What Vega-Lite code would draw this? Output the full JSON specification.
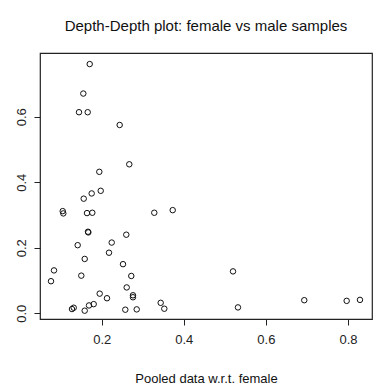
{
  "$schema": "https://vega.github.io/schema/vega-lite/v6.json",
  "width": 332,
  "height": 266,
  "autosize": "none",
  "padding": {"left": 40, "top": 53, "right": 13, "bottom": 66},
  "background": "white",
  "title": {
    "text": "Depth-Depth plot: female vs male samples",
    "font": "Liberation Sans",
    "fontSize": 15,
    "fontWeight": "normal",
    "color": "#111111",
    "anchor": "middle",
    "baseline": "alphabetic",
    "offset": 7
  },
  "config": {
    "view": {"stroke": "#222222", "strokeWidth": 1.2},
    "axis": {
      "grid": false,
      "domain": false,
      "tickColor": "#222222",
      "tickSize": 6,
      "labelFont": "Liberation Sans",
      "labelFontSize": 13,
      "labelColor": "#222222",
      "titleFont": "Liberation Sans",
      "titleFontSize": 13,
      "titleFontWeight": "normal",
      "titleColor": "#111111"
    }
  },
  "data": {
    "values": [
      {"x": 0.1708, "y": 0.761},
      {"x": 0.1552, "y": 0.671},
      {"x": 0.1447, "y": 0.614},
      {"x": 0.1659, "y": 0.614},
      {"x": 0.2438, "y": 0.575},
      {"x": 0.2672, "y": 0.455},
      {"x": 0.1942, "y": 0.432},
      {"x": 0.1976, "y": 0.374},
      {"x": 0.1756, "y": 0.366},
      {"x": 0.1562, "y": 0.350},
      {"x": 0.1050, "y": 0.312},
      {"x": 0.1065, "y": 0.305},
      {"x": 0.1642, "y": 0.306},
      {"x": 0.1771, "y": 0.307},
      {"x": 0.1666, "y": 0.249},
      {"x": 0.1674, "y": 0.247},
      {"x": 0.2599, "y": 0.240},
      {"x": 0.3281, "y": 0.307},
      {"x": 0.3730, "y": 0.315},
      {"x": 0.2244, "y": 0.216},
      {"x": 0.1415, "y": 0.208},
      {"x": 0.2178, "y": 0.185},
      {"x": 0.1586, "y": 0.166},
      {"x": 0.2519, "y": 0.150},
      {"x": 0.0838, "y": 0.131},
      {"x": 0.1503, "y": 0.115},
      {"x": 0.2721, "y": 0.114},
      {"x": 0.0765, "y": 0.098},
      {"x": 0.2609, "y": 0.079},
      {"x": 0.1951, "y": 0.060},
      {"x": 0.2129, "y": 0.046},
      {"x": 0.2762, "y": 0.055},
      {"x": 0.2762, "y": 0.049},
      {"x": 0.1805, "y": 0.028},
      {"x": 0.1691, "y": 0.024},
      {"x": 0.1318, "y": 0.017},
      {"x": 0.1276, "y": 0.013},
      {"x": 0.1586, "y": 0.008},
      {"x": 0.2575, "y": 0.011},
      {"x": 0.2853, "y": 0.012},
      {"x": 0.3437, "y": 0.032},
      {"x": 0.3525, "y": 0.014},
      {"x": 0.5199, "y": 0.128},
      {"x": 0.5320, "y": 0.018},
      {"x": 0.6935, "y": 0.040},
      {"x": 0.7968, "y": 0.038},
      {"x": 0.8292, "y": 0.041}
    ]
  },
  "mark": {"type": "point", "shape": "circle", "filled": false, "size": 30, "stroke": "#111111", "strokeWidth": 1, "opacity": 1},
  "encoding": {
    "x": {
      "field": "x",
      "type": "quantitative",
      "scale": {"domain": [0.0497, 0.8585], "nice": false, "zero": false},
      "axis": {
        "title": "Pooled data w.r.t. female",
        "values": [0.2, 0.4, 0.6, 0.8],
        "format": ".1f",
        "labelPadding": 8,
        "titlePadding": 26
      }
    },
    "y": {
      "field": "y",
      "type": "quantitative",
      "scale": {"domain": [-0.0174, 0.7948], "nice": false, "zero": false},
      "axis": {
        "title": null,
        "values": [0, 0.2, 0.4, 0.6],
        "format": ".1f",
        "labelAngle": -90,
        "labelAlign": "center",
        "labelBaseline": "bottom",
        "labelPadding": 6
      }
    }
  }
}
